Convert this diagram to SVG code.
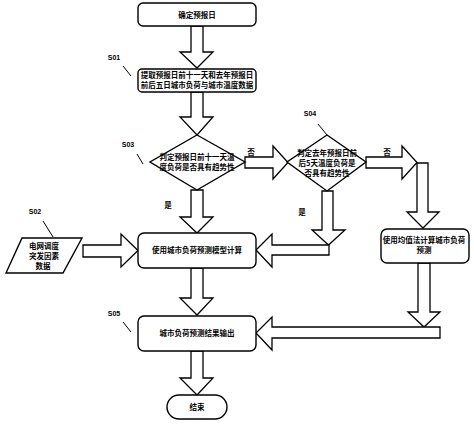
<svg xmlns="http://www.w3.org/2000/svg" width="474" height="428" viewBox="0 0 474 428">
<style>
.n{fill:#fff;stroke:#000;stroke-width:1.4}
.a{fill:#fff;stroke:#000;stroke-width:1.3;stroke-linejoin:miter}
.t{font-family:"Noto Sans CJK SC","Noto Sans",sans-serif;font-size:7.5px;font-weight:bold;text-anchor:middle;fill:#000}
.l{font-family:"Liberation Sans","DejaVu Sans",sans-serif;font-size:7px;font-weight:bold;text-anchor:middle;fill:#000}
.ld{stroke:#000;stroke-width:1;fill:none}
</style>
<rect width="474" height="428" fill="#fff"/>
<g id="connectors">
<polygon class="a" points="191,26 203,26 203,52 213,52 197,68 180,52 191,52"/>
<polygon class="a" points="191,92 203,92 203,117 213,117 197,135 180,117 191,117"/>
<polygon class="a" points="245,157 273,157 273,146 288,162.5 273,179 273,168 245,168"/>
<polygon class="a" points="191,190 203,190 203,217 213,217 197,233 180,217 191,217"/>
<polygon class="a" points="366,157 402,157 402,146 417,162.5 402,179 402,168 366,168"/>
<polygon class="a" points="417,163 428,163 428,212 439,212 423,228 407,212 417,212"/>
<polygon class="a" points="418,263 430,263 430,312 440,312 424,327 408,312 418,312"/>
<polygon class="a" points="440,327 440,338 272,338 272,350 256,333 272,317 272,327"/>
<polygon class="a" points="322,191 333,191 333,230 345,230 328.5,245 312,230 322,230"/>
<polygon class="a" points="329,245 329,255 272,255 272,267 256,250 272,234 272,245"/>
<polygon class="a" points="83,245 121,245 121,234 138,250.5 121,267 121,257 83,257"/>
<polygon class="a" points="191,268 203,268 203,298 213,298 197,315 180,298 191,298"/>
<polygon class="a" points="191,351 203,351 203,378 213,378 197,395 180,378 191,378"/>
<text class="t" x="251" y="155">否</text>
<text class="t" x="387" y="155">否</text>
<text class="t" x="168" y="208">是</text>
<text class="t" x="302" y="215">是</text>
</g>
<g id="start">
<rect class="n" x="138" y="3" width="118" height="23" rx="5"/>
<text class="t" x="197" y="17.5">确定预报日</text>
</g>
<g id="s01">
<rect class="n" x="138" y="69" width="118" height="23" rx="4"/>
<text class="t" x="197" y="77.5">提取预报日前十一天和去年预报日</text>
<text class="t" x="197" y="87.5">前后五日城市负荷与城市温度数据</text>
<text class="l" x="114" y="60">S01</text>
<line class="ld" x1="123" y1="66" x2="131" y2="76"/>
</g>
<g id="s03">
<polygon class="n" points="197,135 245,162 197,190 150,162"/>
<text class="t" x="197" y="160">判定预报日前十一天温</text>
<text class="t" x="197" y="170">度负荷是否具有趋势性</text>
<text class="l" x="128" y="147">S03</text>
<line class="ld" x1="137" y1="154" x2="143" y2="164"/>
</g>
<g id="s04">
<polygon class="n" points="327,135 366,162 327,191 287,162"/>
<text class="t" x="327" y="155.5">判定去年预报日前</text>
<text class="t" x="327" y="165.5">后5天温度负荷是</text>
<text class="t" x="327" y="175.5">否具有趋势性</text>
<text class="l" x="310" y="116">S04</text>
<line class="ld" x1="318" y1="124" x2="327" y2="135"/>
</g>
<g id="s02">
<polygon class="n" points="22,238 82,238 63,273 6,273"/>
<text class="t" x="44" y="248.5">电网调度</text>
<text class="t" x="44" y="258.5">突发因素</text>
<text class="t" x="43" y="268.5">数据</text>
<text class="l" x="35" y="214">S02</text>
<line class="ld" x1="43" y1="221" x2="53" y2="237"/>
</g>
<g id="model">
<rect class="n" x="138" y="233" width="118" height="35" rx="6"/>
<text class="t" x="197" y="253">使用城市负荷预测模型计算</text>
</g>
<g id="mean">
<rect class="n" x="381" y="229" width="88" height="34" rx="6"/>
<text class="t" x="424" y="243">使用均值法计算城市负荷</text>
<text class="t" x="424" y="253">预测</text>
</g>
<g id="s05">
<rect class="n" x="138" y="316" width="118" height="35" rx="6"/>
<text class="t" x="197" y="336">城市负荷预测结果输出</text>
<text class="l" x="114" y="316">S05</text>
<line class="ld" x1="123" y1="322" x2="131" y2="332"/>
</g>
<g id="end">
<rect class="n" x="167" y="395" width="60" height="24" rx="12"/>
<text class="t" x="197" y="410">结束</text>
</g>
</svg>
